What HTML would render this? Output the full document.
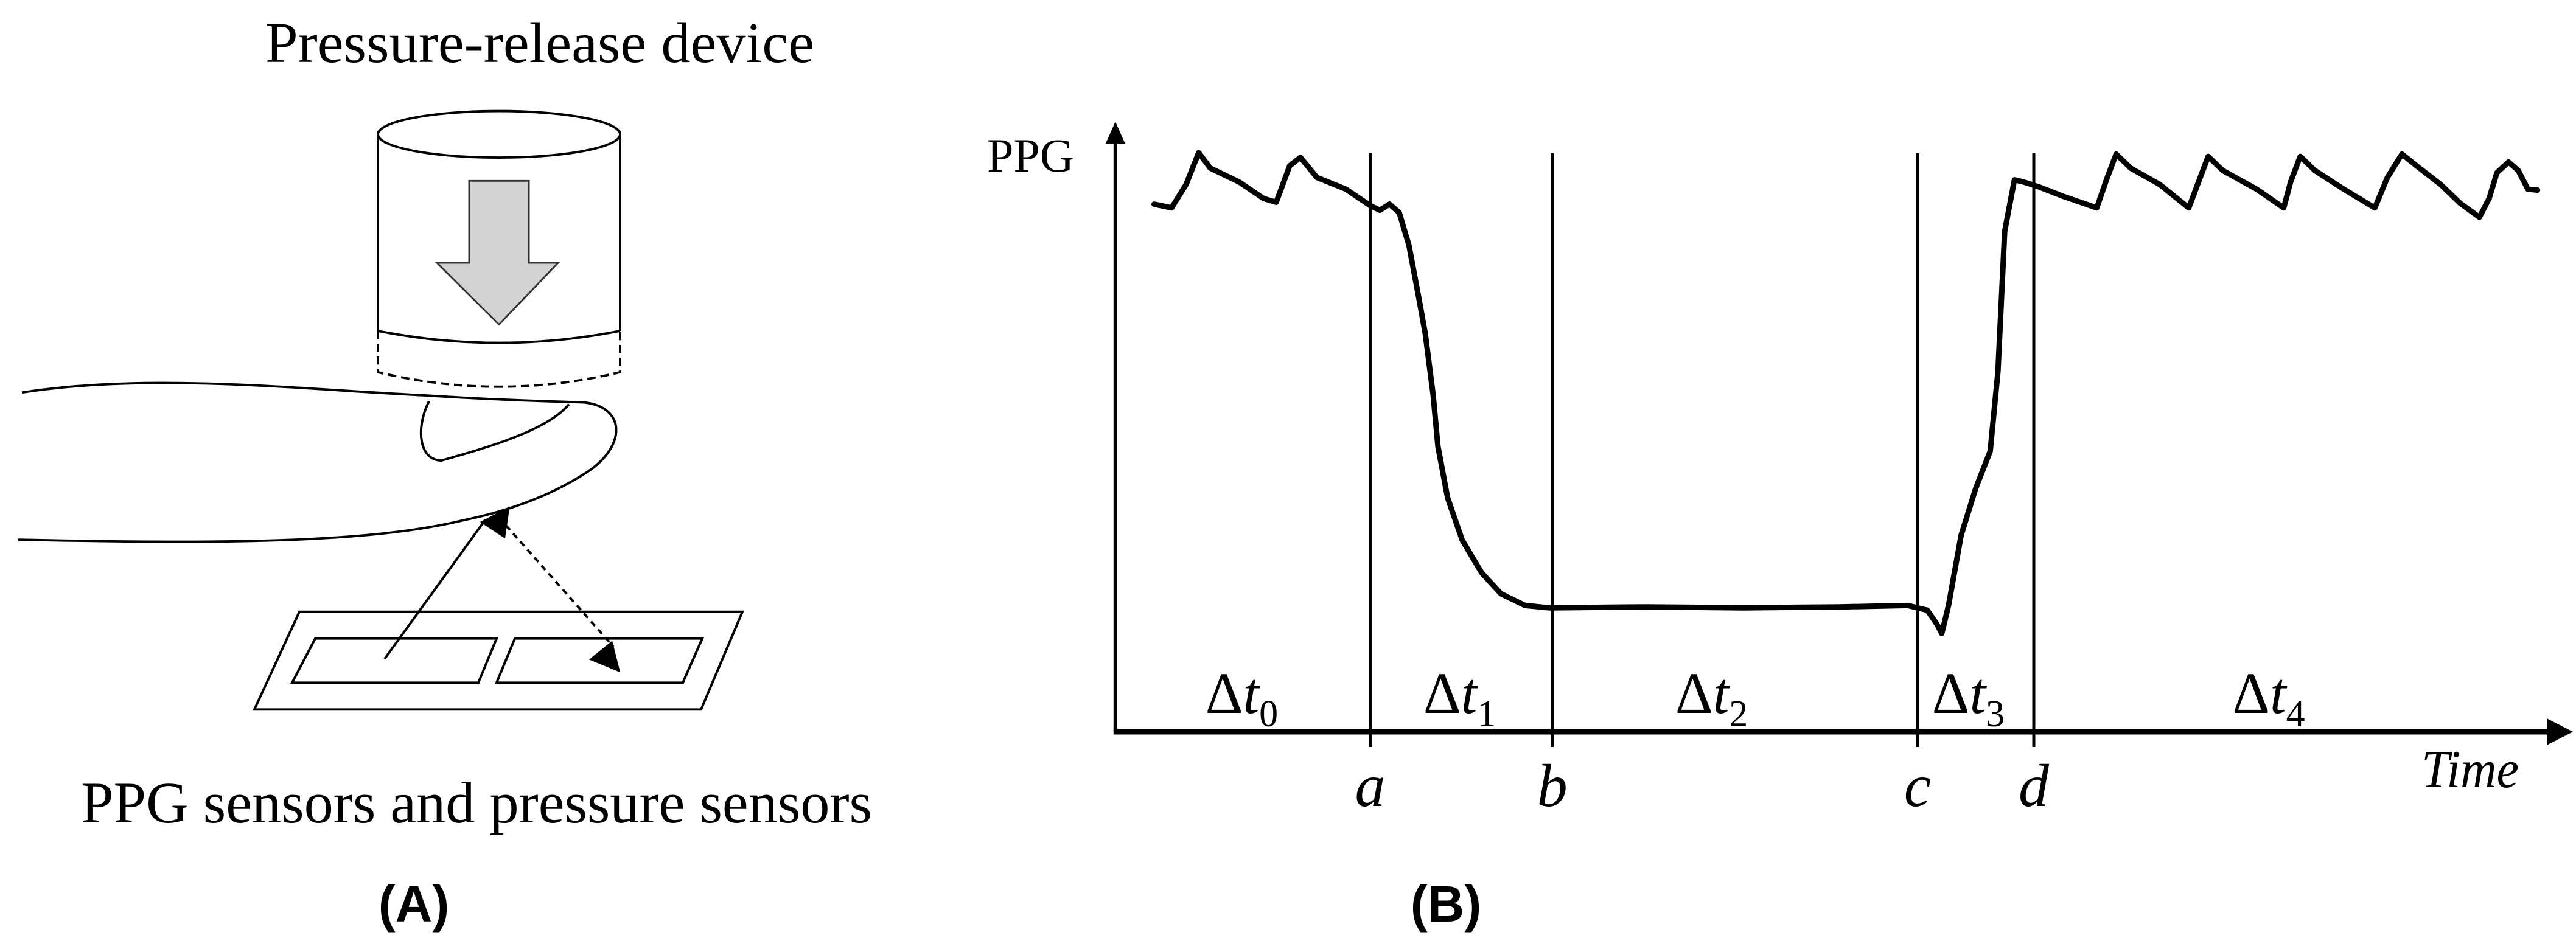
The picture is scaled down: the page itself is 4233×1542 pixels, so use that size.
<!DOCTYPE html>
<html><head><meta charset="utf-8"><style>
html,body{margin:0;padding:0;background:#fff;}
svg{display:block;}
.serif{font-family:"Liberation Serif",serif;}
.sans{font-family:"Liberation Sans",sans-serif;font-weight:bold;}
</style></head><body>
<svg id="fig" width="4233" height="1542" viewBox="0 0 4233 1542" xmlns="http://www.w3.org/2000/svg">
<defs>
<marker id="ah" markerWidth="10" markerHeight="10" refX="9" refY="5" orient="auto" markerUnits="userSpaceOnUse" viewBox="0 0 10 10" style="overflow:visible">
<path d="M0,0 L10,5 L0,10 Z" fill="#000" transform="scale(5)"/>
</marker>
</defs>
<g id="panelA">
<text class="serif" x="436" y="102" font-size="94" textLength="902" lengthAdjust="spacingAndGlyphs">Pressure-release device</text>
<g transform="scale(1,0.956)">
<g fill="none" stroke="#000" stroke-width="4">
<ellipse cx="820" cy="231" rx="199" ry="40" fill="#fff"/>
<line x1="621" y1="231" x2="621" y2="569"/>
<line x1="1019" y1="231" x2="1019" y2="569"/>
<path d="M621,569 Q820,610 1019,569"/>
<path d="M621,569 L621,640 Q820,690 1019,640 L1019,569" stroke-dasharray="14,8"/>
<path d="M771,311 L869,311 L869,452 L917,452 L820,558 L718,452 L771,452 Z" fill="#d3d3d3" stroke="#333" stroke-width="3"/>
</g>
<g fill="none" stroke="#000" stroke-width="4">
<path d="M36,675 C250,640 500,670 700,680 C820,688 900,690 960,692 C1030,700 1030,770 960,815 C900,855 830,880 760,895 C600,935 350,935 30,928"/>
<path d="M705,690 C685,730 685,790 725,792 C800,770 900,740 935,695"/>
</g>
<g stroke="#000" stroke-width="4" fill="none">
<line x1="632" y1="1133" x2="798" y2="893" marker-end="url(#ah)"/>
<line x1="820" y1="890" x2="1008" y2="1112" stroke-dasharray="10,8" marker-end="url(#ah)"/>
</g>
<g fill="none" stroke="#000" stroke-width="4">
<path d="M492,1052 L1220,1052 L1152,1220 L418,1220 Z"/>
<path d="M518,1098 L816,1098 L786,1174 L480,1174 Z"/>
<path d="M846,1098 L1154,1098 L1122,1174 L816,1174 Z"/>
</g>
</g>
<text class="serif" x="133" y="1352" font-size="96" textLength="1300" lengthAdjust="spacingAndGlyphs">PPG sensors and pressure sensors</text>
<text class="sans" x="680" y="1515" font-size="84" text-anchor="middle">(A)</text>
</g>
<g id="panelB"></g>
</svg>
<script>
const timeVals=[92,110,125,138,150,180,205,218,232,243,260,290,315,325,335,345,355,365,372,380,385,395,410,430,450,475,500,600,700,800,870,890,900,905,912,925,940,955,963,970,980,990,1005,1030,1065,1075,1085,1100,1130,1160,1170,1180,1195,1230,1258,1265,1275,1290,1320,1352,1365,1380,1395,1420,1440,1460,1470,1478,1490,1500,1510,1520];
const ppgVals=[1128,1120,1170,1238,1205,1175,1140,1132,1210,1228,1185,1160,1125,1115,1128,1110,1040,930,850,720,610,500,410,340,295,270,265,267,265,267,270,260,230,210,270,420,520,600,770,1070,1180,1175,1165,1145,1120,1180,1235,1205,1170,1120,1175,1230,1200,1160,1120,1175,1230,1200,1160,1120,1185,1235,1210,1170,1130,1100,1140,1195,1218,1200,1160,1158];
const markTimes=[315,503,880,1000];
const markLabels=["a","b","c","d"];
const deltaTimes=[195,420,680,945,1255];
const deltaSubs=["0","1","2","3","4"];
const NS="http://www.w3.org/2000/svg";
const X=t=>1750+1.592*t;
const Y=v=>1203-0.769*v;
const g=document.getElementById('panelB');
function mk(tag,attrs){const e=document.createElementNS(NS,tag);for(const k in attrs)e.setAttribute(k,attrs[k]);g.appendChild(e);return e;}
const ya=mk('line',{x1:X(52),y1:Y(0),x2:X(52),y2:212,stroke:'#000','stroke-width':6});


const yh=mk('path',{d:`M${X(52)-16},236 L${X(52)},200 L${X(52)+16},236 Z`,fill:'#000'});


const xa=mk('line',{x1:X(52)-3,y1:Y(0),x2:4200,y2:Y(0),stroke:'#000','stroke-width':9});


const xh=mk('path',{d:`M4185,${Y(0)-22} L4228,${Y(0)} L4185,${Y(0)+22} Z`,fill:'#000'});


markTimes.forEach((t,i)=>{
 const l=mk('line',{x1:X(t),y1:252,x2:X(t),y2:1228,stroke:'#000','stroke-width':5});
 
 
 const tx=mk('text',{x:X(t),y:1325,'font-size':100,'font-style':'italic','text-anchor':'middle','font-family':'"Liberation Serif",serif'});
 tx.textContent=markLabels[i];
 
 
});
deltaTimes.forEach((t,i)=>{
 const tx=mk('text',{x:X(t)-20,y:1172,'font-size':96,'text-anchor':'middle','font-family':'"Liberation Serif",serif'});
 tx.innerHTML='Δ<tspan font-style="italic">t</tspan><tspan font-size="62" dy="22">'+deltaSubs[i]+'</tspan>';
 
 
});
let d='';
timeVals.forEach((t,i)=>{d+=(i?'L':'M')+X(t).toFixed(1)+','+Y(ppgVals[i]).toFixed(1);});
const p=mk('path',{d:d,fill:'none',stroke:'#000','stroke-width':9,'stroke-linejoin':'round','stroke-linecap':'round'});


const yl=mk('text',{x:1622,y:282,'font-size':78,'font-family':'"Liberation Serif",serif'});
yl.textContent='PPG';


const xl=mk('text',{x:3979,y:1294,'font-size':88,'font-style':'italic','font-family':'"Liberation Serif",serif',textLength:160,lengthAdjust:'spacingAndGlyphs'});
xl.textContent='Time';


const cap=mk('text',{x:2376,y:1515,'font-size':84,'text-anchor':'middle','font-family':'"Liberation Sans",sans-serif','font-weight':'bold'});
cap.textContent='(B)';


</script>
</body></html>
